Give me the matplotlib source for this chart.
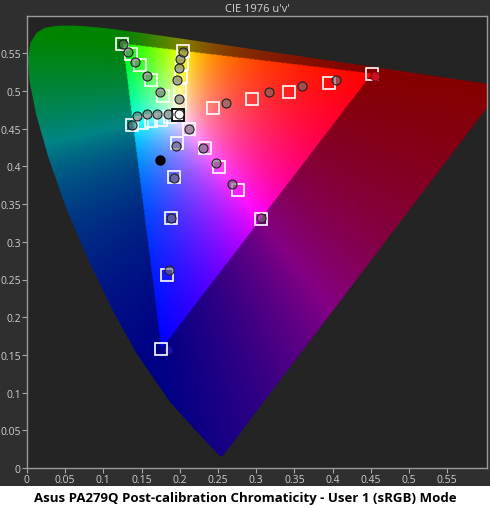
import numpy as np
import matplotlib
matplotlib.use("Agg")
import matplotlib.pyplot as plt
from matplotlib.patches import Polygon, Rectangle

# ---------------- data (u', v') ----------------
# saturation sweeps 20% -> 100%
green_meas_u = [0.174, 0.157, 0.142, 0.132, 0.126]
green_meas_v = [0.499, 0.520, 0.538, 0.552, 0.562]
green_tgt_u = [0.178, 0.162, 0.148, 0.136, 0.125]
green_tgt_v = [0.494, 0.515, 0.534, 0.549, 0.5625]

yellow_meas_u = [0.199, 0.197, 0.199, 0.200, 0.204]
yellow_meas_v = [0.490, 0.514, 0.531, 0.543, 0.552]
yellow_tgt_u = [0.200, 0.201, 0.202, 0.203, 0.204]
yellow_tgt_v = [0.484, 0.501, 0.519, 0.536, 0.553]

red_meas_u = [0.260, 0.317, 0.360, 0.404, 0.456]
red_meas_v = [0.4845, 0.499, 0.507, 0.515, 0.520]
red_tgt_u = [0.243, 0.295, 0.343, 0.396, 0.451]
red_tgt_v = [0.478, 0.489, 0.499, 0.511, 0.523]

magenta_meas_u = [0.212, 0.231, 0.247, 0.268, 0.306]
magenta_meas_v = [0.450, 0.424, 0.404, 0.376, 0.332]
magenta_tgt_u = [0.212, 0.233, 0.251, 0.276, 0.306]
magenta_tgt_v = [0.449, 0.424, 0.399, 0.369, 0.330]

blue_meas_u = [0.195, 0.192, 0.188, 0.186, 0.185]
blue_meas_v = [0.4275, 0.384, 0.331, 0.263, 0.157]
blue_tgt_u = [0.196, 0.192, 0.188, 0.183, 0.175]
blue_tgt_v = [0.431, 0.386, 0.331, 0.256, 0.158]

cyan_meas_u = [0.185, 0.170, 0.157, 0.1436, 0.137]
cyan_meas_v = [0.469, 0.469, 0.469, 0.467, 0.455]
cyan_tgt_u = [0.187, 0.175, 0.163, 0.151, 0.138]
cyan_tgt_v = [0.465, 0.462, 0.460, 0.457, 0.455]

white_meas = (0.199, 0.469)
white_tgt = (0.1978, 0.4683)
black_meas = (0.174, 0.4085)

x_ticks = [0, 0.05, 0.1, 0.15, 0.2, 0.25, 0.3, 0.35, 0.4, 0.45, 0.5, 0.55]
y_ticks = [0, 0.05, 0.1, 0.15, 0.2, 0.25, 0.3, 0.35, 0.4, 0.45, 0.5, 0.55]
title = "CIE 1976 u'v'"
caption = "Asus PA279Q Post-calibration Chromaticity - User 1 (sRGB) Mode"

# CIE 1931 2-degree spectral locus (x, y), 380-700 nm
locus_x = [0.1741, 0.1738, 0.1733, 0.1726, 0.1714, 0.1689, 0.1644, 0.1566, 0.1440, 0.1241,
           0.1096, 0.0913, 0.0687, 0.0454, 0.0235, 0.0082, 0.0039, 0.0139, 0.0389, 0.0743,
           0.1142, 0.1547, 0.1929, 0.2296, 0.2658, 0.3016, 0.3373, 0.3731, 0.4087, 0.4441,
           0.4788, 0.5125, 0.5448, 0.5752, 0.6029, 0.6270, 0.6658, 0.6915, 0.7079, 0.7190,
           0.7260, 0.7300, 0.7334, 0.7347]
locus_y = [0.0050, 0.0049, 0.0048, 0.0048, 0.0051, 0.0069, 0.0109, 0.0177, 0.0297, 0.0578,
           0.0868, 0.1327, 0.2007, 0.2950, 0.4127, 0.5384, 0.6548, 0.7502, 0.8120, 0.8338,
           0.8262, 0.8059, 0.7816, 0.7543, 0.7243, 0.6923, 0.6589, 0.6245, 0.5896, 0.5547,
           0.5202, 0.4866, 0.4544, 0.4242, 0.3965, 0.3725, 0.3340, 0.3083, 0.2920, 0.2809,
           0.2740, 0.2700, 0.2666, 0.2653]

lx = np.array(locus_x)
ly = np.array(locus_y)
d = -2 * lx + 12 * ly + 3
loc_u = 4 * lx / d
loc_v = 9 * ly / d

# ---------------- gamut image ----------------
N = 700
uu, vv = np.meshgrid(np.linspace(0, 0.602, N), np.linspace(0, 0.6, N))
Xg = 9 * uu
Yg = 4 * vv
Zg = 12 - 3 * uu - 20 * vv
M = np.array([[3.2406, -1.5372, -0.4986],
              [-0.9689, 1.8758, 0.0415],
              [0.0557, -0.2040, 1.0570]])
rgb = np.stack([M[i, 0] * Xg + M[i, 1] * Yg + M[i, 2] * Zg for i in range(3)], axis=-1)
outside = (rgb < -1e-6).any(axis=-1)
rgb = np.clip(rgb, 0, None)
mx = rgb.max(axis=-1, keepdims=True)
mx[mx == 0] = 1
rgb = rgb / mx
rgb[outside] *= 0.52
rgb = np.clip(rgb, 0, 1)

# ---------------- figure ----------------
fig = plt.figure(figsize=(4.9, 5.1), dpi=100, facecolor='#2f2f2f')
fig.patches.append(Rectangle((0, 0), 1, 23 / 510, transform=fig.transFigure,
                             facecolor='white', edgecolor='none', zorder=0))
ax = fig.add_axes([26.9 / 490, 41 / 510, 460 / 490, 452.4 / 510])
ax.set_facecolor('#242424')
ax.set_xlim(0, 0.602)
ax.set_ylim(0, 0.6)

locus = Polygon(np.column_stack([loc_u, loc_v]), closed=True, facecolor='none', edgecolor='none')
ax.add_patch(locus)
im = ax.imshow(rgb, origin='lower', extent=(0, 0.602, 0, 0.6), interpolation='bilinear',
               aspect='auto', zorder=1)
im.set_clip_path(locus)

sq_kw = dict(marker='s', markersize=8.5, markerfacecolor='none', markeredgecolor='white',
             markeredgewidth=1.2, linestyle='none', zorder=3)
ci_kw = dict(marker='o', markersize=6.5, markerfacecolor=(0.43, 0.43, 0.43, 0.6),
             markeredgecolor='#202020', markeredgewidth=0.8, linestyle='none', zorder=4)

for tu, tv in [(green_tgt_u, green_tgt_v), (yellow_tgt_u, yellow_tgt_v), (red_tgt_u, red_tgt_v),
               (magenta_tgt_u, magenta_tgt_v), (blue_tgt_u, blue_tgt_v), (cyan_tgt_u, cyan_tgt_v)]:
    ax.plot(tu, tv, **sq_kw)
for mu, mv in [(green_meas_u, green_meas_v), (yellow_meas_u, yellow_meas_v), (red_meas_u[:-1], red_meas_v[:-1]),
               (magenta_meas_u, magenta_meas_v), (blue_meas_u[:-1], blue_meas_v[:-1]), (cyan_meas_u, cyan_meas_v)]:
    ax.plot(mu, mv, **ci_kw)
# primaries drawn with their own colour
ax.plot(red_meas_u[-1:], red_meas_v[-1:], marker='o', markersize=6.5, markerfacecolor='#c81020',
        markeredgecolor='#8a0010', markeredgewidth=0.8, linestyle='none', zorder=4)
ax.plot(blue_meas_u[-1:], blue_meas_v[-1:], marker='o', markersize=6.5, markerfacecolor='#1a10b0',
        markeredgecolor='#10086a', markeredgewidth=0.8, linestyle='none', zorder=2.5)
# white point
ax.plot([white_tgt[0]], [white_tgt[1]], marker='s', markersize=9, markerfacecolor='white',
        markeredgecolor='black', markeredgewidth=1.3, linestyle='none', zorder=3)
ax.plot([white_meas[0]], [white_meas[1]], marker='o', markersize=6.5, markerfacecolor='white',
        markeredgecolor='#202020', markeredgewidth=0.8, linestyle='none', zorder=4)
# black
ax.plot([black_meas[0]], [black_meas[1]], marker='o', markersize=6.5, markerfacecolor='black',
        markeredgecolor='black', linestyle='none', zorder=4)

ax.set_xticks(x_ticks)
ax.set_xticklabels([f"{t:g}" for t in x_ticks])
ax.set_yticks(y_ticks)
ax.set_yticklabels([f"{t:g}" for t in y_ticks])
ax.tick_params(colors='#a8a8a8', labelcolor='#cfcfcf', labelsize=7.5, length=3.5, width=0.8,
               direction='out', pad=1)
for lab in ax.get_xticklabels() + ax.get_yticklabels():
    lab.set_fontfamily('Open Sans')
for sp in ax.spines.values():
    sp.set_color('#9a9a9a')
    sp.set_linewidth(1.0)

fig.text((26.9 + 230) / 490, 1 - 9 / 510, title, ha='center', va='center', color='#d6d6d6',
         fontsize=8, family='Open Sans')
fig.text(0.5, 11.5 / 510, caption, ha='center', va='center', color='black',
         fontsize=9.5, family='Open Sans', fontweight='bold')

fig.savefig('out.png', dpi=100, facecolor=fig.get_facecolor())
